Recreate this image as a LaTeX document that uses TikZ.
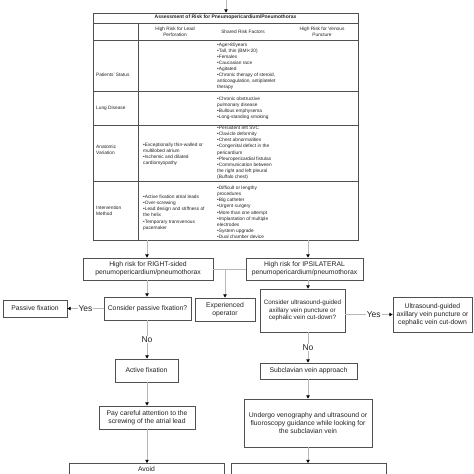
\documentclass[tikz,border=0pt]{standalone}
\usepackage{fontspec}
\setmainfont{Liberation Sans}
\usetikzlibrary{arrows.meta}
\newcommand\tabfont{\fontsize{4.8}{6.1}\selectfont}
\newcommand\boxfont{\fontsize{6.8}{8}\selectfont}
\definecolor{boxgray}{HTML}{505050}
\definecolor{linegray}{HTML}{B8B8B8}
\definecolor{txtgray}{HTML}{222222}
\begin{document}
\begin{tikzpicture}[x=1pt,y=-1pt,
  fbox/.style={draw=boxgray, line width=0.8pt, fill=white, align=center, font=\boxfont, text=txtgray, inner sep=0pt},
  conn/.style={draw=linegray, line width=0.7pt},
  arr/.style={conn, -{Triangle[length=3.2pt,width=3.4pt,color=black]}},
  tline/.style={draw=boxgray, line width=0.8pt},
  ttext/.style={font=\tabfont, text=txtgray, align=left, inner sep=0pt, anchor=north west},
  tlabel/.style={font=\tabfont, text=txtgray, align=left, inner sep=0pt, anchor=west},
  thead/.style={font=\tabfont, text=txtgray, align=center, inner sep=0pt},
  lbl/.style={font=\fontsize{8.5}{9}\selectfont, fill=white, inner sep=1pt, text=txtgray}]
\useasboundingbox (0,0) rectangle (474,474);

% ---------- table ----------
\coordinate (top) at (226,0);
\node[draw=boxgray, line width=0.8pt, minimum width=265pt, minimum height=227pt, inner sep=0pt] (table) at (225.5,126.5) {};
\draw[arr] (top) -- (table.north -| top);
\draw[tline] (93,23) -- (358,23);
\draw[tline] (93,40) -- (358,40);
\draw[tline] (93,91) -- (358,91);
\draw[tline] (93,125) -- (358,125);
\draw[tline] (93,181) -- (358,181);
\draw[tline] (138,23) -- (138,240);

\node[thead, font=\bfseries\fontsize{5}{6}\selectfont] (title) at (225.5,17.7) {Assessment of Risk for Pneumopericardium/Pneumothorax};
\node[thead] (h1) at (175,31.7) {High Risk for Lead\\Perforation};
\node[thead] (h2) at (243,32) {Shared Risk Factors};
\node[thead] (h3) at (322,31.7) {High Risk for Venous\\Puncture};

\node[tlabel] (r1) at (96,75) {Patients' Status};
\node[ttext] (s1) at (217,42.5) {•Age>80years\\•Tall, thin (BMI<20)\\•Females\\•Caucasian race\\•Agitated\\•Chronic therapy of steroid,\\anticoagulation, antiplatelet\\therapy};

\node[tlabel] (r2) at (96,108) {Lung Disease};
\node[ttext] (s2) at (217,97) {•Chronic obstructive\\pulmonary disease\\•Bullous emphysema\\•Long-standing smoking};

\node[tlabel] (r3) at (96,150) {Anatomic\\Variation};
\node[ttext] (l3) at (143,143) {•Exceptionally thin-walled or\\multilobed atrium\\•Ischemic and dilated\\cardiomyopathy};
\node[ttext] (s3) at (217,126) {•Persistent left SVC\\•Clavicle deformity\\•Chest abnormalities\\•Congenital defect in the\\pericardium\\•Pleuropericardial fistulas\\•Communication between\\the right and left pleural\\(Buffalo chest)};

\node[tlabel] (r4) at (96,211) {Intervention\\Method};
\node[ttext] (l4) at (143,195) {•Active fixation atrial leads\\•Over-screwing\\•Lead design and stiffness of\\the helix\\•Temporary transvenous\\pacemaker};
\node[ttext] (s4) at (217,186) {•Difficult or lengthy\\procedures\\•Big catheter\\•Urgent surgery\\•More than one attempt\\•Implantation of multiple\\electrodes\\•System upgrade\\•Dual chamber device};

% ---------- flowchart ----------
\coordinate (colL) at (147,0);
\coordinate (colR) at (308,0);

\node[fbox, minimum width=130pt, minimum height=22pt] (rbox) at (148,269) {High risk for RIGHT-sided\\penumopericardium/pneumothorax};
\node[fbox, minimum width=117pt, minimum height=22pt] (ibox) at (304.5,269) {High risk for IPSILATERAL\\penumopericardium/pneumothorax};
\draw[arr] (table.south -| colL) -- (rbox.north -| colL);
\draw[arr] (table.south -| colR) -- (ibox.north -| colR);
\draw[conn] (rbox.east) -- (ibox.west);

\node[fbox, minimum width=60pt, minimum height=23pt] (exp) at (225,309.5) {Experienced\\operator};
\draw[arr] (rbox.east -| exp.north) -- (exp.north);

\node[fbox, minimum width=87pt, minimum height=23pt] (cpf) at (147.5,308.5) {Consider passive fixation?};
\node[fbox, minimum width=64pt, minimum height=17pt] (pf) at (35,308.5) {Passive fixation};
\draw[arr] (rbox.south -| colL) -- (cpf.north -| colL);
\draw[arr] (cpf.west) -- node[lbl]{Yes} (pf.east);

\node[fbox, minimum width=85pt, minimum height=43pt, font=\fontsize{6.3}{7.6}\selectfont] (cus) at (302.5,310.5) {Consider ultrasound-guided\\axillary vein puncture or\\cephalic vein cut-down?};
\node[fbox, minimum width=79pt, minimum height=35pt] (ultra) at (432.5,314.5) {Ultrasound-guided\\axillary vein puncture or\\cephalic vein cut-down};
\draw[arr] (ibox.south -| colR) -- (cus.north -| colR);
\draw[arr] (cus.east |- ultra.west) -- node[lbl, pos=0.6]{Yes} (ultra.west);

\node[fbox, minimum width=63pt, minimum height=23pt] (act) at (146.5,370.5) {Active fixation};
\draw[arr] (cpf.south -| colL) -- node[lbl]{No} (act.north -| colL);

\node[fbox, minimum width=96pt, minimum height=23pt] (pay) at (147,417.5) {Pay careful attention to the\\screwing of the atrial lead};
\draw[arr] (act.south -| colL) -- (pay.north -| colL);

\node[fbox, minimum width=155pt, anchor=north, inner ysep=3pt, text height=5pt, text depth=30pt] (avoid) at (146.5,463) {Avoid};
\draw[arr] (pay.south -| colL) -- (avoid.north -| colL);

\node[fbox, minimum width=97pt, minimum height=16pt] (sub) at (308.5,371) {Subclavian vein approach};
\draw[arr] (cus.south -| colR) -- node[lbl]{No} (sub.north -| colR);

\node[fbox, minimum width=128pt, minimum height=48pt] (und) at (308,423) {Undergo venography and ultrasound or\\fluoroscopy guidance while looking for\\the subclavian vein};
\draw[arr] (sub.south -| colR) -- (und.north -| colR);

\node[fbox, minimum width=155pt, minimum height=40pt, anchor=north] (bot) at (308.5,463) {};
\draw[arr] (und.south -| colR) -- (bot.north -| colR);
\end{tikzpicture}
\end{document}
